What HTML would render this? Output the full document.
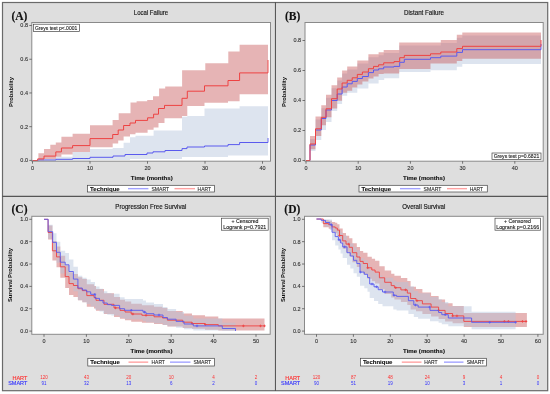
<!DOCTYPE html><html><head><meta charset="utf-8"><style>html,body{margin:0;padding:0;background:#fff;width:550px;height:394px;overflow:hidden}svg{display:block;will-change:transform;filter:blur(0.35px)}</style></head><body>
<svg width="550" height="394" viewBox="0 0 550 394">
<rect x="0" y="0" width="550" height="394" fill="#fff"/>
<rect x="2.5" y="2.5" width="545.2" height="388.2" fill="#dedede" stroke="#6a6a6a" stroke-width="1.2"/>
<line x1="275.45" y1="2" x2="275.45" y2="391" stroke="#555" stroke-width="1.05"/>
<line x1="2" y1="196.35" x2="548" y2="196.35" stroke="#555" stroke-width="1.05"/>
<text x="11.40" y="20.10" font-size="11.5" text-anchor="start" font-weight="bold" fill="#111" font-family='"Liberation Serif", serif'  stroke="#111" stroke-width="0.12">(A)</text>
<text x="151.00" y="14.80" font-size="7.0" text-anchor="middle" font-weight="normal" fill="#1a1a1a" font-family='"Liberation Sans", sans-serif' textLength="34.4" lengthAdjust="spacingAndGlyphs" stroke="#1a1a1a" stroke-width="0.18">Local Failure</text>
<rect x="31.8" y="22.5" width="238.7" height="138.7" fill="#fff"/>
<path d="M32.50,160.50 L44.00,160.50 L44.00,159.00 L56.00,159.00 L56.00,156.80 L72.60,156.80 L72.60,152.00 L90.00,152.00 L90.00,149.00 L112.70,149.00 L112.70,148.00 L123.60,148.00 L123.60,142.70 L130.00,142.70 L130.00,137.30 L135.50,137.30 L135.50,135.80 L153.60,135.80 L153.60,130.50 L182.00,130.50 L182.00,116.80 L187.30,116.80 L187.30,116.00 L204.50,116.00 L204.50,108.40 L239.60,108.40 L239.60,106.20 L268.00,106.20 L268.00,155.50 L228.00,155.50 L228.00,157.00 L182.00,157.00 L182.00,159.00 L130.00,159.00 L130.00,160.00 L90.00,160.00 L90.00,160.50 L32.50,160.50Z" fill="#dde4ef" fill-opacity="1"/>
<path d="M32.50,160.50 L38.40,160.50 L38.40,153.30 L44.00,153.30 L44.00,149.10 L50.30,149.10 L50.30,144.70 L55.80,144.70 L55.80,142.40 L61.40,142.40 L61.40,136.80 L72.60,136.80 L72.60,133.80 L90.00,133.80 L90.00,125.20 L112.60,125.20 L112.60,119.90 L118.70,119.90 L118.70,113.20 L130.50,113.20 L130.50,102.60 L136.60,102.60 L136.60,101.30 L147.20,101.30 L147.20,99.90 L153.00,99.90 L153.00,96.30 L159.10,96.30 L159.10,88.60 L165.20,88.60 L165.20,86.60 L182.10,86.60 L182.10,70.30 L205.30,70.30 L205.30,63.30 L228.30,63.30 L228.30,51.60 L239.60,51.60 L239.60,44.80 L268.00,44.80 L268.00,94.20 L239.60,94.20 L239.60,101.30 L228.00,101.30 L228.00,102.70 L204.50,102.70 L204.50,106.10 L187.30,106.10 L187.30,116.00 L182.00,116.00 L182.00,118.30 L164.50,118.30 L164.50,122.90 L158.50,122.90 L158.50,127.40 L153.60,127.40 L153.60,129.70 L147.60,129.70 L147.60,132.80 L135.50,132.80 L135.50,134.30 L130.00,134.30 L130.00,136.60 L123.60,136.60 L123.60,140.40 L118.20,140.40 L118.20,143.60 L112.70,143.60 L112.70,147.30 L90.00,147.30 L90.00,152.00 L72.60,152.00 L72.60,154.40 L61.40,154.40 L61.40,156.80 L56.00,156.80 L56.00,159.00 L44.00,159.00 L44.00,160.50 L32.50,160.50Z" fill="rgb(199,88,91)" fill-opacity="0.45"/>
<path d="M32.50,160.50 L38.00,160.50 L38.00,160.00 L56.00,160.00 L56.00,159.30 L72.60,159.30 L72.60,158.50 L90.00,158.50 L90.00,157.30 L113.00,157.30 L113.00,156.00 L125.00,156.00 L125.00,154.50 L147.00,154.50 L147.00,153.00 L153.00,153.00 L153.00,151.80 L165.00,151.80 L165.00,150.50 L182.00,150.50 L182.00,148.60 L187.00,148.60 L187.00,147.00 L204.50,147.00 L204.50,146.00 L228.00,146.00 L228.00,144.60 L239.60,144.60 L239.60,142.50 L268.00,142.50" fill="none" stroke="#5a5aee" stroke-width="1"/>
<line x1="268" y1="142.5" x2="268" y2="138" stroke="#5a5aee" stroke-width="0.9"/>
<path d="M32.50,160.50 L37.70,160.50 L37.70,158.90 L44.00,158.90 L44.00,156.10 L55.80,156.10 L55.80,151.90 L61.40,151.90 L61.40,148.00 L72.60,148.00 L72.60,145.60 L90.00,145.60 L90.00,138.60 L112.70,138.60 L112.70,134.50 L118.20,134.50 L118.20,130.00 L123.60,130.00 L123.60,125.50 L130.00,125.50 L130.00,123.00 L135.50,123.00 L135.50,120.40 L147.60,120.40 L147.60,117.80 L153.60,117.80 L153.60,114.20 L158.50,114.20 L158.50,108.50 L164.50,108.50 L164.50,105.40 L182.00,105.40 L182.00,98.30 L187.30,98.30 L187.30,91.20 L204.50,91.20 L204.50,85.80 L228.00,85.80 L228.00,80.50 L239.60,80.50 L239.60,72.90 L268.00,72.90" fill="none" stroke="#ee4242" stroke-width="1"/>
<line x1="268" y1="72.9" x2="268" y2="60" stroke="#ee4242" stroke-width="0.9"/>
<rect x="31.8" y="22.5" width="238.7" height="138.7" fill="none" stroke="#8a8a8a" stroke-width="1"/>
<line x1="29.3" y1="160.40" x2="31.8" y2="160.40" stroke="#555" stroke-width="0.8"/>
<text x="28.00" y="162.35" font-size="5.5" text-anchor="end" font-weight="normal" fill="#333" font-family='"Liberation Sans", sans-serif'  stroke="#333" stroke-width="0.12">0.0</text>
<line x1="29.3" y1="126.68" x2="31.8" y2="126.68" stroke="#555" stroke-width="0.8"/>
<text x="28.00" y="128.63" font-size="5.5" text-anchor="end" font-weight="normal" fill="#333" font-family='"Liberation Sans", sans-serif'  stroke="#333" stroke-width="0.12">0.2</text>
<line x1="29.3" y1="92.96" x2="31.8" y2="92.96" stroke="#555" stroke-width="0.8"/>
<text x="28.00" y="94.91" font-size="5.5" text-anchor="end" font-weight="normal" fill="#333" font-family='"Liberation Sans", sans-serif'  stroke="#333" stroke-width="0.12">0.4</text>
<line x1="29.3" y1="59.24" x2="31.8" y2="59.24" stroke="#555" stroke-width="0.8"/>
<text x="28.00" y="61.19" font-size="5.5" text-anchor="end" font-weight="normal" fill="#333" font-family='"Liberation Sans", sans-serif'  stroke="#333" stroke-width="0.12">0.6</text>
<line x1="29.3" y1="25.52" x2="31.8" y2="25.52" stroke="#555" stroke-width="0.8"/>
<text x="28.00" y="27.47" font-size="5.5" text-anchor="end" font-weight="normal" fill="#333" font-family='"Liberation Sans", sans-serif'  stroke="#333" stroke-width="0.12">0.8</text>
<line x1="32.50" y1="161.2" x2="32.50" y2="163.7" stroke="#555" stroke-width="0.8"/>
<text x="32.50" y="170.10" font-size="5.5" text-anchor="middle" font-weight="normal" fill="#333" font-family='"Liberation Sans", sans-serif'  stroke="#333" stroke-width="0.12">0</text>
<line x1="90.00" y1="161.2" x2="90.00" y2="163.7" stroke="#555" stroke-width="0.8"/>
<text x="90.00" y="170.10" font-size="5.5" text-anchor="middle" font-weight="normal" fill="#333" font-family='"Liberation Sans", sans-serif'  stroke="#333" stroke-width="0.12">10</text>
<line x1="147.50" y1="161.2" x2="147.50" y2="163.7" stroke="#555" stroke-width="0.8"/>
<text x="147.50" y="170.10" font-size="5.5" text-anchor="middle" font-weight="normal" fill="#333" font-family='"Liberation Sans", sans-serif'  stroke="#333" stroke-width="0.12">20</text>
<line x1="205.00" y1="161.2" x2="205.00" y2="163.7" stroke="#555" stroke-width="0.8"/>
<text x="205.00" y="170.10" font-size="5.5" text-anchor="middle" font-weight="normal" fill="#333" font-family='"Liberation Sans", sans-serif'  stroke="#333" stroke-width="0.12">30</text>
<line x1="262.50" y1="161.2" x2="262.50" y2="163.7" stroke="#555" stroke-width="0.8"/>
<text x="262.50" y="170.10" font-size="5.5" text-anchor="middle" font-weight="normal" fill="#333" font-family='"Liberation Sans", sans-serif'  stroke="#333" stroke-width="0.12">40</text>
<text x="0" y="0" font-size="5.8" font-weight="bold" text-anchor="middle" fill="#111" font-family='"Liberation Sans", sans-serif' transform="translate(13.3,92) rotate(-90)">Probability</text>
<text x="151.80" y="179.80" font-size="6.1" text-anchor="middle" font-weight="bold" fill="#111" font-family='"Liberation Sans", sans-serif'  stroke="#111" stroke-width="0.12">Time (months)</text>
<rect x="87.6" y="185.3" width="126.80000000000001" height="6.699999999999989" fill="#fff" stroke="#444" stroke-width="0.7"/>
<text x="90.10" y="190.80" font-size="6.0" text-anchor="start" font-weight="bold" fill="#111" font-family='"Liberation Sans", sans-serif'  stroke="#111" stroke-width="0.12">Technique</text>
<line x1="128" y1="188.65" x2="148.4" y2="188.65" stroke="#3030ff" stroke-width="1.4" stroke-opacity="0.45"/>
<text x="151.40" y="190.65" font-size="5.6" text-anchor="start" font-weight="normal" fill="#2a2a2a" font-family='"Liberation Sans", sans-serif' textLength="17.8" lengthAdjust="spacingAndGlyphs" stroke="#2a2a2a" stroke-width="0.12">SMART</text>
<line x1="174.5" y1="188.65" x2="195" y2="188.65" stroke="#ff3030" stroke-width="1.4" stroke-opacity="0.45"/>
<text x="197.60" y="190.65" font-size="5.6" text-anchor="start" font-weight="normal" fill="#2a2a2a" font-family='"Liberation Sans", sans-serif' textLength="13.4" lengthAdjust="spacingAndGlyphs" stroke="#2a2a2a" stroke-width="0.12">HART</text>
<rect x="33.5" y="24.2" width="46.0" height="7.400000000000002" fill="#fff" stroke="#444" stroke-width="0.7"/>
<text x="35.00" y="30.00" font-size="5.6" text-anchor="start" font-weight="normal" fill="#222" font-family='"Liberation Sans", sans-serif' textLength="42.2" lengthAdjust="spacingAndGlyphs" stroke="#222" stroke-width="0.12">Greys test p&lt;.0001</text>
<text x="284.90" y="20.00" font-size="11.5" text-anchor="start" font-weight="bold" fill="#111" font-family='"Liberation Serif", serif'  stroke="#111" stroke-width="0.12">(B)</text>
<text x="424.00" y="14.80" font-size="7.0" text-anchor="middle" font-weight="normal" fill="#1a1a1a" font-family='"Liberation Sans", sans-serif' textLength="40" lengthAdjust="spacingAndGlyphs" stroke="#1a1a1a" stroke-width="0.18">Distant Failure</text>
<rect x="305" y="22.5" width="238.20000000000005" height="138.7" fill="#fff"/>
<path d="M306.00,160.50 L310.00,160.50 L310.00,139.00 L315.50,139.00 L315.50,119.50 L321.30,119.50 L321.30,108.30 L326.00,108.30 L326.00,97.70 L331.50,97.70 L331.50,88.30 L337.20,88.30 L337.20,80.50 L342.10,80.50 L342.10,73.50 L347.20,73.50 L347.20,69.40 L357.30,69.40 L357.30,63.50 L368.40,63.50 L368.40,57.20 L378.60,57.20 L378.60,55.20 L383.70,55.20 L383.70,53.00 L399.20,53.00 L399.20,45.40 L440.80,45.40 L440.80,43.10 L456.80,43.10 L456.80,37.80 L462.30,37.80 L462.30,35.60 L541.00,35.60 L541.00,63.90 L462.30,63.90 L462.30,66.80 L456.80,66.80 L456.80,70.30 L430.50,70.30 L430.50,72.10 L399.20,72.10 L399.20,78.20 L384.20,78.20 L384.20,80.00 L378.60,80.00 L378.60,83.60 L368.40,83.60 L368.40,88.60 L357.30,88.60 L357.30,92.70 L347.20,92.70 L347.20,95.70 L342.10,95.70 L342.10,104.00 L337.20,104.00 L337.20,111.00 L331.50,111.00 L331.50,122.00 L326.00,122.00 L326.00,130.00 L321.30,130.00 L321.30,140.00 L315.50,140.00 L315.50,151.00 L310.00,151.00 L310.00,160.50 L306.00,160.50Z" fill="#dde4ef" fill-opacity="1"/>
<path d="M306.00,160.50 L310.00,160.50 L310.00,136.00 L315.50,136.00 L315.50,116.50 L321.30,116.50 L321.30,105.30 L326.00,105.30 L326.00,94.70 L331.50,94.70 L331.50,85.30 L337.20,85.30 L337.20,77.50 L342.10,77.50 L342.10,70.50 L347.20,70.50 L347.20,66.40 L357.30,66.40 L357.30,60.50 L368.40,60.50 L368.40,54.20 L378.60,54.20 L378.60,52.20 L383.70,52.20 L383.70,50.00 L399.20,50.00 L399.20,42.40 L440.80,42.40 L440.80,40.10 L456.80,40.10 L456.80,34.80 L462.30,34.80 L462.30,32.60 L541.00,32.60 L541.00,58.80 L462.30,58.80 L462.30,61.10 L456.80,61.10 L456.80,63.40 L430.50,63.40 L430.50,69.10 L399.20,69.10 L399.20,73.50 L383.70,73.50 L383.70,74.00 L378.60,74.00 L378.60,76.50 L373.50,76.50 L373.50,78.50 L368.40,78.50 L368.40,81.50 L362.40,81.50 L362.40,84.60 L357.30,84.60 L357.30,87.60 L352.20,87.60 L352.20,90.70 L347.20,90.70 L347.20,92.70 L342.10,92.70 L342.10,100.80 L337.20,100.80 L337.20,108.50 L331.50,108.50 L331.50,117.30 L326.00,117.30 L326.00,125.30 L321.30,125.30 L321.30,136.00 L315.50,136.00 L315.50,149.30 L310.00,149.30 L310.00,160.50 L306.00,160.50Z" fill="rgb(199,88,91)" fill-opacity="0.45"/>
<path d="M306.00,160.50 L310.00,160.50 L310.00,145.00 L315.50,145.00 L315.50,130.00 L321.30,130.00 L321.30,118.50 L326.00,118.50 L326.00,110.00 L331.50,110.00 L331.50,100.50 L337.20,100.50 L337.20,94.00 L342.10,94.00 L342.10,87.00 L347.20,87.00 L347.20,83.80 L352.20,83.80 L352.20,81.40 L357.30,81.40 L357.30,78.50 L362.40,78.50 L362.40,76.50 L368.40,76.50 L368.40,72.60 L373.50,72.60 L373.50,70.00 L378.60,70.00 L378.60,68.80 L383.70,68.80 L383.70,67.00 L394.00,67.00 L394.00,66.40 L399.70,66.40 L399.70,62.30 L404.30,62.30 L404.30,59.30 L430.50,59.30 L430.50,57.70 L440.80,57.70 L440.80,56.10 L456.80,56.10 L456.80,52.40 L462.50,52.40 L462.50,49.70 L541.00,49.70" fill="none" stroke="#5a5aee" stroke-width="1"/>
<line x1="541" y1="49.7" x2="541" y2="44" stroke="#5a5aee" stroke-width="0.9"/>
<path d="M306.00,160.50 L310.00,160.50 L310.00,144.00 L315.50,144.00 L315.50,128.80 L321.30,128.80 L321.30,117.30 L326.00,117.30 L326.00,108.80 L331.50,108.80 L331.50,98.70 L337.20,98.70 L337.20,89.00 L342.10,89.00 L342.10,83.00 L347.20,83.00 L347.20,80.30 L352.20,80.30 L352.20,77.80 L357.30,77.80 L357.30,74.40 L362.40,74.40 L362.40,72.00 L368.40,72.00 L368.40,68.70 L373.50,68.70 L373.50,66.40 L378.60,66.40 L378.60,64.80 L383.70,64.80 L383.70,62.80 L394.00,62.80 L394.00,61.60 L399.70,61.60 L399.70,57.70 L404.30,57.70 L404.30,55.40 L430.50,55.40 L430.50,53.80 L440.80,53.80 L440.80,52.00 L456.80,52.00 L456.80,48.60 L462.50,48.60 L462.50,46.30 L541.00,46.30" fill="none" stroke="#ee4242" stroke-width="1"/>
<line x1="541" y1="46.3" x2="541" y2="40" stroke="#ee4242" stroke-width="0.9"/>
<rect x="305" y="22.5" width="238.20000000000005" height="138.7" fill="none" stroke="#8a8a8a" stroke-width="1"/>
<line x1="302.5" y1="160.50" x2="305" y2="160.50" stroke="#555" stroke-width="0.8"/>
<text x="301.20" y="162.45" font-size="5.5" text-anchor="end" font-weight="normal" fill="#333" font-family='"Liberation Sans", sans-serif'  stroke="#333" stroke-width="0.12">0.0</text>
<line x1="302.5" y1="130.50" x2="305" y2="130.50" stroke="#555" stroke-width="0.8"/>
<text x="301.20" y="132.45" font-size="5.5" text-anchor="end" font-weight="normal" fill="#333" font-family='"Liberation Sans", sans-serif'  stroke="#333" stroke-width="0.12">0.2</text>
<line x1="302.5" y1="100.50" x2="305" y2="100.50" stroke="#555" stroke-width="0.8"/>
<text x="301.20" y="102.45" font-size="5.5" text-anchor="end" font-weight="normal" fill="#333" font-family='"Liberation Sans", sans-serif'  stroke="#333" stroke-width="0.12">0.4</text>
<line x1="302.5" y1="70.50" x2="305" y2="70.50" stroke="#555" stroke-width="0.8"/>
<text x="301.20" y="72.45" font-size="5.5" text-anchor="end" font-weight="normal" fill="#333" font-family='"Liberation Sans", sans-serif'  stroke="#333" stroke-width="0.12">0.6</text>
<line x1="302.5" y1="40.50" x2="305" y2="40.50" stroke="#555" stroke-width="0.8"/>
<text x="301.20" y="42.45" font-size="5.5" text-anchor="end" font-weight="normal" fill="#333" font-family='"Liberation Sans", sans-serif'  stroke="#333" stroke-width="0.12">0.8</text>
<line x1="306.00" y1="161.2" x2="306.00" y2="163.7" stroke="#555" stroke-width="0.8"/>
<text x="306.00" y="170.10" font-size="5.5" text-anchor="middle" font-weight="normal" fill="#333" font-family='"Liberation Sans", sans-serif'  stroke="#333" stroke-width="0.12">0</text>
<line x1="358.20" y1="161.2" x2="358.20" y2="163.7" stroke="#555" stroke-width="0.8"/>
<text x="358.20" y="170.10" font-size="5.5" text-anchor="middle" font-weight="normal" fill="#333" font-family='"Liberation Sans", sans-serif'  stroke="#333" stroke-width="0.12">10</text>
<line x1="410.40" y1="161.2" x2="410.40" y2="163.7" stroke="#555" stroke-width="0.8"/>
<text x="410.40" y="170.10" font-size="5.5" text-anchor="middle" font-weight="normal" fill="#333" font-family='"Liberation Sans", sans-serif'  stroke="#333" stroke-width="0.12">20</text>
<line x1="462.60" y1="161.2" x2="462.60" y2="163.7" stroke="#555" stroke-width="0.8"/>
<text x="462.60" y="170.10" font-size="5.5" text-anchor="middle" font-weight="normal" fill="#333" font-family='"Liberation Sans", sans-serif'  stroke="#333" stroke-width="0.12">30</text>
<line x1="514.80" y1="161.2" x2="514.80" y2="163.7" stroke="#555" stroke-width="0.8"/>
<text x="514.80" y="170.10" font-size="5.5" text-anchor="middle" font-weight="normal" fill="#333" font-family='"Liberation Sans", sans-serif'  stroke="#333" stroke-width="0.12">40</text>
<text x="0" y="0" font-size="5.8" font-weight="bold" text-anchor="middle" fill="#111" font-family='"Liberation Sans", sans-serif' transform="translate(285.5,92) rotate(-90)">Probability</text>
<text x="424.00" y="179.80" font-size="6.1" text-anchor="middle" font-weight="bold" fill="#111" font-family='"Liberation Sans", sans-serif'  stroke="#111" stroke-width="0.12">Time (months)</text>
<rect x="359" y="185.3" width="128.3" height="6.699999999999989" fill="#fff" stroke="#444" stroke-width="0.7"/>
<text x="361.50" y="190.80" font-size="6.0" text-anchor="start" font-weight="bold" fill="#111" font-family='"Liberation Sans", sans-serif'  stroke="#111" stroke-width="0.12">Technique</text>
<line x1="400" y1="188.65" x2="420.5" y2="188.65" stroke="#3030ff" stroke-width="1.4" stroke-opacity="0.45"/>
<text x="423.60" y="190.65" font-size="5.6" text-anchor="start" font-weight="normal" fill="#2a2a2a" font-family='"Liberation Sans", sans-serif' textLength="17.8" lengthAdjust="spacingAndGlyphs" stroke="#2a2a2a" stroke-width="0.12">SMART</text>
<line x1="447" y1="188.65" x2="467" y2="188.65" stroke="#ff3030" stroke-width="1.4" stroke-opacity="0.45"/>
<text x="469.70" y="190.65" font-size="5.6" text-anchor="start" font-weight="normal" fill="#2a2a2a" font-family='"Liberation Sans", sans-serif' textLength="13.4" lengthAdjust="spacingAndGlyphs" stroke="#2a2a2a" stroke-width="0.12">HART</text>
<rect x="492" y="153" width="49" height="6.599999999999994" fill="#fff" stroke="#444" stroke-width="0.7"/>
<text x="516.50" y="158.30" font-size="5.6" text-anchor="middle" font-weight="normal" fill="#222" font-family='"Liberation Sans", sans-serif' textLength="45.6" lengthAdjust="spacingAndGlyphs" stroke="#222" stroke-width="0.12">Greys test p=0.6821</text>
<text x="11.50" y="213.30" font-size="11.5" text-anchor="start" font-weight="bold" fill="#111" font-family='"Liberation Serif", serif'  stroke="#111" stroke-width="0.12">(C)</text>
<text x="150.80" y="208.70" font-size="7.0" text-anchor="middle" font-weight="normal" fill="#1a1a1a" font-family='"Liberation Sans", sans-serif' textLength="71" lengthAdjust="spacingAndGlyphs" stroke="#1a1a1a" stroke-width="0.18">Progression Free Survival</text>
<rect x="31.8" y="216.3" width="238.39999999999998" height="118.0" fill="#fff"/>
<path d="M44.00,219.30 L48.10,219.30 L48.10,225.61 L52.40,225.61 L52.40,241.04 L56.50,241.04 L56.50,246.49 L60.30,246.49 L60.30,255.75 L65.20,255.75 L65.20,265.23 L69.00,265.23 L69.00,272.20 L73.40,272.20 L73.40,273.99 L77.90,273.99 L77.90,277.15 L82.30,277.15 L82.30,278.99 L86.80,278.99 L86.80,284.18 L94.00,284.18 L94.00,285.98 L96.00,285.98 L96.00,289.00 L104.00,289.00 L104.00,293.22 L114.00,293.22 L114.00,297.04 L120.00,297.04 L120.00,299.81 L125.00,299.81 L125.00,301.58 L131.20,301.58 L131.20,303.85 L141.90,303.85 L141.90,305.17 L154.00,305.17 L154.00,306.75 L162.50,306.75 L162.50,308.10 L167.40,308.10 L167.40,310.95 L182.70,310.95 L182.70,313.42 L192.00,313.42 L192.00,315.14 L205.00,315.14 L205.00,316.58 L218.30,316.58 L218.30,318.45 L264.50,318.45 L264.50,330.47 L218.30,330.47 L218.30,329.64 L205.00,329.64 L205.00,328.87 L192.00,328.87 L192.00,327.97 L182.70,327.97 L182.70,326.51 L167.40,326.51 L167.40,325.01 L162.50,325.01 L162.50,324.06 L154.00,324.06 L154.00,322.80 L141.90,322.80 L141.90,321.68 L131.20,321.68 L131.20,320.13 L125.00,320.13 L125.00,318.87 L120.00,318.87 L120.00,316.91 L114.00,316.91 L114.00,313.98 L104.00,313.98 L104.00,310.72 L96.00,310.72 L96.00,308.51 L94.00,308.51 L94.00,306.78 L86.80,306.78 L86.80,302.21 L82.30,302.21 L82.30,300.25 L77.90,300.25 L77.90,297.01 L73.40,297.01 L73.40,295.00 L69.00,295.00 L69.00,287.97 L65.20,287.97 L65.20,277.85 L60.30,277.85 L60.30,267.31 L56.50,267.31 L56.50,260.56 L52.40,260.56 L52.40,239.39 L48.10,239.39 L48.10,219.30 L44.00,219.30Z" fill="#e6b4b5" fill-opacity="1"/>
<path d="M44.00,219.30 L48.10,219.30 L48.10,224.68 L52.70,224.68 L52.70,233.19 L56.50,233.19 L56.50,241.77 L60.30,241.77 L60.30,250.82 L65.20,250.82 L65.20,253.09 L69.00,253.09 L69.00,259.45 L73.40,259.45 L73.40,266.86 L77.90,266.86 L77.90,275.87 L82.30,275.87 L82.30,277.80 L86.60,277.80 L86.60,279.54 L90.70,279.54 L90.70,282.06 L95.00,282.06 L95.00,286.39 L99.50,286.39 L99.50,288.66 L103.00,288.66 L103.00,291.24 L107.30,291.24 L107.30,292.92 L111.40,292.92 L111.40,293.69 L119.60,293.69 L119.60,297.28 L124.60,297.28 L124.60,299.03 L143.00,299.03 L143.00,300.62 L146.00,300.62 L146.00,302.53 L154.00,302.53 L154.00,303.94 L163.00,303.94 L163.00,306.94 L167.40,306.94 L167.40,309.12 L176.10,309.12 L176.10,311.99 L184.00,311.99 L184.00,315.68 L193.30,315.68 L193.30,318.55 L222.30,318.55 L222.30,322.86 L235.50,322.86 L235.50,331.10 L222.30,331.10 L222.30,330.41 L193.30,330.41 L193.30,329.29 L184.00,329.29 L184.00,327.68 L176.10,327.68 L176.10,326.19 L167.40,326.19 L167.40,325.04 L163.00,325.04 L163.00,323.24 L154.00,323.24 L154.00,322.19 L146.00,322.19 L146.00,321.05 L143.00,321.05 L143.00,319.33 L124.60,319.33 L124.60,318.07 L119.60,318.07 L119.60,315.47 L111.40,315.47 L111.40,314.76 L107.30,314.76 L107.30,313.46 L103.00,313.46 L103.00,311.56 L99.50,311.56 L99.50,309.75 L95.00,309.75 L95.00,306.47 L90.70,306.47 L90.70,304.06 L86.60,304.06 L86.60,302.20 L82.30,302.20 L82.30,300.13 L77.90,300.13 L77.90,291.34 L73.40,291.34 L73.40,283.55 L69.00,283.55 L69.00,276.51 L65.20,276.51 L65.20,273.58 L60.30,273.58 L60.30,262.83 L56.50,262.83 L56.50,251.61 L52.70,251.61 L52.70,238.72 L48.10,238.72 L48.10,219.30 L44.00,219.30Z" fill="rgb(179,195,219)" fill-opacity="0.45"/>
<path d="M44.00,219.30 L48.10,219.30 L48.10,232.50 L52.40,232.50 L52.40,250.80 L56.50,250.80 L56.50,256.90 L60.30,256.90 L60.30,266.80 L65.20,266.80 L65.20,276.60 L69.00,276.60 L69.00,283.60 L73.40,283.60 L73.40,285.50 L77.90,285.50 L77.90,288.70 L82.30,288.70 L82.30,290.60 L86.80,290.60 L86.80,295.60 L94.00,295.60 L94.00,297.50 L96.00,297.50 L96.00,300.30 L104.00,300.30 L104.00,304.30 L114.00,304.30 L114.00,307.90 L120.00,307.90 L120.00,310.40 L125.00,310.40 L125.00,312.00 L131.20,312.00 L131.20,314.00 L141.90,314.00 L141.90,315.30 L154.00,315.30 L154.00,316.80 L162.50,316.80 L162.50,318.00 L167.40,318.00 L167.40,320.20 L182.70,320.20 L182.70,322.20 L192.00,322.20 L192.00,323.50 L205.00,323.50 L205.00,324.60 L218.30,324.60 L218.30,325.90 L264.50,325.90" fill="none" stroke="#ee4242" stroke-width="0.9"/>
<path d="M114.20,307.90 h2.6 M115.50,306.60 v2.6" stroke="#ee4242" stroke-width="0.8"/>
<path d="M131.50,314.00 h2.6 M132.80,312.70 v2.6" stroke="#ee4242" stroke-width="0.8"/>
<path d="M144.70,315.30 h2.6 M146.00,314.00 v2.6" stroke="#ee4242" stroke-width="0.8"/>
<path d="M190.90,323.50 h2.6 M192.20,322.20 v2.6" stroke="#ee4242" stroke-width="0.8"/>
<path d="M204.00,324.60 h2.6 M205.30,323.30 v2.6" stroke="#ee4242" stroke-width="0.8"/>
<path d="M242.10,325.90 h2.6 M243.40,324.60 v2.6" stroke="#ee4242" stroke-width="0.8"/>
<path d="M259.20,325.90 h2.6 M260.50,324.60 v2.6" stroke="#ee4242" stroke-width="0.8"/>
<path d="M263.20,325.90 h2.6 M264.50,324.60 v2.6" stroke="#ee4242" stroke-width="0.8"/>
<path d="M44.00,219.30 L48.10,219.30 L48.10,231.70 L52.70,231.70 L52.70,242.40 L56.50,242.40 L56.50,252.30 L60.30,252.30 L60.30,262.20 L65.20,262.20 L65.20,264.80 L69.00,264.80 L69.00,271.50 L73.40,271.50 L73.40,279.10 L77.90,279.10 L77.90,288.00 L82.30,288.00 L82.30,290.00 L86.60,290.00 L86.60,291.80 L90.70,291.80 L90.70,294.30 L95.00,294.30 L95.00,298.40 L99.50,298.40 L99.50,300.60 L103.00,300.60 L103.00,303.00 L107.30,303.00 L107.30,304.60 L111.40,304.60 L111.40,305.40 L119.60,305.40 L119.60,308.70 L124.60,308.70 L124.60,310.30 L143.00,310.30 L143.00,312.10 L146.00,312.10 L146.00,313.70 L154.00,313.70 L154.00,315.00 L163.00,315.00 L163.00,317.50 L167.40,317.50 L167.40,319.20 L176.10,319.20 L176.10,321.40 L184.00,321.40 L184.00,324.00 L193.30,324.00 L193.30,325.90 L222.30,325.90 L222.30,328.50 L235.50,328.50" fill="none" stroke="#5a5aee" stroke-width="0.9"/>
<line x1="235.5" y1="328.5" x2="235.5" y2="331" stroke="#5a5aee" stroke-width="0.9"/>
<path d="M93.60,294.30 h2.6 M94.90,293.00 v2.6" stroke="#5a5aee" stroke-width="0.8"/>
<path d="M130.00,310.30 h2.6 M131.30,309.00 v2.6" stroke="#5a5aee" stroke-width="0.8"/>
<path d="M143.20,312.10 h2.6 M144.50,310.80 v2.6" stroke="#5a5aee" stroke-width="0.8"/>
<path d="M157.70,315.00 h2.6 M159.00,313.70 v2.6" stroke="#5a5aee" stroke-width="0.8"/>
<path d="M195.70,325.90 h2.6 M197.00,324.60 v2.6" stroke="#5a5aee" stroke-width="0.8"/>
<rect x="31.8" y="216.3" width="238.39999999999998" height="118.0" fill="none" stroke="#8a8a8a" stroke-width="1"/>
<line x1="29.3" y1="331.10" x2="31.8" y2="331.10" stroke="#555" stroke-width="0.8"/>
<text x="28.00" y="333.05" font-size="5.5" text-anchor="end" font-weight="normal" fill="#333" font-family='"Liberation Sans", sans-serif'  stroke="#333" stroke-width="0.12">0.0</text>
<line x1="29.3" y1="308.74" x2="31.8" y2="308.74" stroke="#555" stroke-width="0.8"/>
<text x="28.00" y="310.69" font-size="5.5" text-anchor="end" font-weight="normal" fill="#333" font-family='"Liberation Sans", sans-serif'  stroke="#333" stroke-width="0.12">0.2</text>
<line x1="29.3" y1="286.38" x2="31.8" y2="286.38" stroke="#555" stroke-width="0.8"/>
<text x="28.00" y="288.33" font-size="5.5" text-anchor="end" font-weight="normal" fill="#333" font-family='"Liberation Sans", sans-serif'  stroke="#333" stroke-width="0.12">0.4</text>
<line x1="29.3" y1="264.02" x2="31.8" y2="264.02" stroke="#555" stroke-width="0.8"/>
<text x="28.00" y="265.97" font-size="5.5" text-anchor="end" font-weight="normal" fill="#333" font-family='"Liberation Sans", sans-serif'  stroke="#333" stroke-width="0.12">0.6</text>
<line x1="29.3" y1="241.66" x2="31.8" y2="241.66" stroke="#555" stroke-width="0.8"/>
<text x="28.00" y="243.61" font-size="5.5" text-anchor="end" font-weight="normal" fill="#333" font-family='"Liberation Sans", sans-serif'  stroke="#333" stroke-width="0.12">0.8</text>
<line x1="29.3" y1="219.30" x2="31.8" y2="219.30" stroke="#555" stroke-width="0.8"/>
<text x="28.00" y="221.25" font-size="5.5" text-anchor="end" font-weight="normal" fill="#333" font-family='"Liberation Sans", sans-serif'  stroke="#333" stroke-width="0.12">1.0</text>
<line x1="44.00" y1="334.3" x2="44.00" y2="336.8" stroke="#555" stroke-width="0.8"/>
<text x="44.00" y="343.20" font-size="5.5" text-anchor="middle" font-weight="normal" fill="#333" font-family='"Liberation Sans", sans-serif'  stroke="#333" stroke-width="0.12">0</text>
<line x1="86.40" y1="334.3" x2="86.40" y2="336.8" stroke="#555" stroke-width="0.8"/>
<text x="86.40" y="343.20" font-size="5.5" text-anchor="middle" font-weight="normal" fill="#333" font-family='"Liberation Sans", sans-serif'  stroke="#333" stroke-width="0.12">10</text>
<line x1="128.80" y1="334.3" x2="128.80" y2="336.8" stroke="#555" stroke-width="0.8"/>
<text x="128.80" y="343.20" font-size="5.5" text-anchor="middle" font-weight="normal" fill="#333" font-family='"Liberation Sans", sans-serif'  stroke="#333" stroke-width="0.12">20</text>
<line x1="171.20" y1="334.3" x2="171.20" y2="336.8" stroke="#555" stroke-width="0.8"/>
<text x="171.20" y="343.20" font-size="5.5" text-anchor="middle" font-weight="normal" fill="#333" font-family='"Liberation Sans", sans-serif'  stroke="#333" stroke-width="0.12">30</text>
<line x1="213.60" y1="334.3" x2="213.60" y2="336.8" stroke="#555" stroke-width="0.8"/>
<text x="213.60" y="343.20" font-size="5.5" text-anchor="middle" font-weight="normal" fill="#333" font-family='"Liberation Sans", sans-serif'  stroke="#333" stroke-width="0.12">40</text>
<line x1="256.00" y1="334.3" x2="256.00" y2="336.8" stroke="#555" stroke-width="0.8"/>
<text x="256.00" y="343.20" font-size="5.5" text-anchor="middle" font-weight="normal" fill="#333" font-family='"Liberation Sans", sans-serif'  stroke="#333" stroke-width="0.12">50</text>
<text x="0" y="0" font-size="5.8" font-weight="bold" text-anchor="middle" fill="#111" font-family='"Liberation Sans", sans-serif' transform="translate(12.3,275) rotate(-90)">Survival Probability</text>
<text x="151.50" y="352.50" font-size="6.1" text-anchor="middle" font-weight="bold" fill="#111" font-family='"Liberation Sans", sans-serif'  stroke="#111" stroke-width="0.12">Time (months)</text>
<rect x="87.8" y="358.3" width="126.8" height="7.699999999999989" fill="#fff" stroke="#444" stroke-width="0.7"/>
<text x="90.30" y="364.30" font-size="6.0" text-anchor="start" font-weight="bold" fill="#111" font-family='"Liberation Sans", sans-serif'  stroke="#111" stroke-width="0.12">Technique</text>
<line x1="128.5" y1="362.15" x2="148.2" y2="362.15" stroke="#ff3030" stroke-width="1.4" stroke-opacity="0.45"/>
<text x="151.50" y="364.15" font-size="5.6" text-anchor="start" font-weight="normal" fill="#2a2a2a" font-family='"Liberation Sans", sans-serif' textLength="13.4" lengthAdjust="spacingAndGlyphs" stroke="#2a2a2a" stroke-width="0.12">HART</text>
<line x1="170" y1="362.15" x2="190.5" y2="362.15" stroke="#3030ff" stroke-width="1.4" stroke-opacity="0.45"/>
<text x="193.40" y="364.15" font-size="5.6" text-anchor="start" font-weight="normal" fill="#2a2a2a" font-family='"Liberation Sans", sans-serif' textLength="17.8" lengthAdjust="spacingAndGlyphs" stroke="#2a2a2a" stroke-width="0.12">SMART</text>
<rect x="221.4" y="218.2" width="46.79999999999998" height="12.0" fill="#fff" stroke="#444" stroke-width="0.7"/>
<text x="245.00" y="222.90" font-size="5.6" text-anchor="middle" font-weight="normal" fill="#222" font-family='"Liberation Sans", sans-serif' textLength="27" lengthAdjust="spacingAndGlyphs" stroke="#222" stroke-width="0.12">+ Censored</text>
<text x="244.80" y="229.20" font-size="5.6" text-anchor="middle" font-weight="normal" fill="#222" font-family='"Liberation Sans", sans-serif' textLength="43" lengthAdjust="spacingAndGlyphs" stroke="#222" stroke-width="0.12">Logrank p=0.7921</text>
<text x="27.30" y="379.55" font-size="5.5" text-anchor="end" font-weight="normal" fill="#ff3030" font-family='"Liberation Sans", sans-serif'  stroke="#ff3030" stroke-width="0.12">HART</text>
<text x="44.00" y="379.20" font-size="4.5" text-anchor="middle" font-weight="normal" fill="#ff3030" font-family='"Liberation Sans", sans-serif' stroke="none">120</text>
<text x="86.40" y="379.20" font-size="4.5" text-anchor="middle" font-weight="normal" fill="#ff3030" font-family='"Liberation Sans", sans-serif' stroke="none">43</text>
<text x="128.80" y="379.20" font-size="4.5" text-anchor="middle" font-weight="normal" fill="#ff3030" font-family='"Liberation Sans", sans-serif' stroke="none">20</text>
<text x="171.20" y="379.20" font-size="4.5" text-anchor="middle" font-weight="normal" fill="#ff3030" font-family='"Liberation Sans", sans-serif' stroke="none">10</text>
<text x="213.60" y="379.20" font-size="4.5" text-anchor="middle" font-weight="normal" fill="#ff3030" font-family='"Liberation Sans", sans-serif' stroke="none">4</text>
<text x="256.00" y="379.20" font-size="4.5" text-anchor="middle" font-weight="normal" fill="#ff3030" font-family='"Liberation Sans", sans-serif' stroke="none">2</text>
<text x="27.30" y="385.15" font-size="5.5" text-anchor="end" font-weight="normal" fill="#3030ff" font-family='"Liberation Sans", sans-serif'  stroke="#3030ff" stroke-width="0.12">SMART</text>
<text x="44.00" y="384.80" font-size="4.5" text-anchor="middle" font-weight="normal" fill="#3030ff" font-family='"Liberation Sans", sans-serif' stroke="none">91</text>
<text x="86.40" y="384.80" font-size="4.5" text-anchor="middle" font-weight="normal" fill="#3030ff" font-family='"Liberation Sans", sans-serif' stroke="none">32</text>
<text x="128.80" y="384.80" font-size="4.5" text-anchor="middle" font-weight="normal" fill="#3030ff" font-family='"Liberation Sans", sans-serif' stroke="none">13</text>
<text x="171.20" y="384.80" font-size="4.5" text-anchor="middle" font-weight="normal" fill="#3030ff" font-family='"Liberation Sans", sans-serif' stroke="none">6</text>
<text x="213.60" y="384.80" font-size="4.5" text-anchor="middle" font-weight="normal" fill="#3030ff" font-family='"Liberation Sans", sans-serif' stroke="none">2</text>
<text x="256.00" y="384.80" font-size="4.5" text-anchor="middle" font-weight="normal" fill="#3030ff" font-family='"Liberation Sans", sans-serif' stroke="none">0</text>
<text x="284.30" y="213.30" font-size="11.5" text-anchor="start" font-weight="bold" fill="#111" font-family='"Liberation Serif", serif'  stroke="#111" stroke-width="0.12">(D)</text>
<text x="423.80" y="208.70" font-size="7.0" text-anchor="middle" font-weight="normal" fill="#1a1a1a" font-family='"Liberation Sans", sans-serif' textLength="43" lengthAdjust="spacingAndGlyphs" stroke="#1a1a1a" stroke-width="0.18">Overall Survival</text>
<rect x="304.5" y="216.3" width="238.70000000000005" height="118.0" fill="#fff"/>
<path d="M316.50,219.30 L323.30,219.30 L323.30,220.03 L328.70,220.03 L328.70,220.63 L332.00,220.63 L332.00,222.05 L335.20,222.05 L335.20,222.77 L337.30,222.77 L337.30,224.28 L339.50,224.28 L339.50,228.51 L342.70,228.51 L342.70,232.95 L346.00,232.95 L346.00,235.63 L349.20,235.63 L349.20,238.35 L352.40,238.35 L352.40,243.13 L356.80,243.13 L356.80,246.94 L360.00,246.94 L360.00,250.96 L363.20,250.96 L363.20,252.84 L367.50,252.84 L367.50,256.82 L371.80,256.82 L371.80,258.80 L375.10,258.80 L375.10,260.74 L379.40,260.74 L379.40,266.26 L384.70,266.26 L384.70,270.62 L391.20,270.62 L391.20,273.77 L394.40,273.77 L394.40,275.84 L400.90,275.84 L400.90,277.91 L407.30,277.91 L407.30,281.08 L410.60,281.08 L410.60,286.84 L416.00,286.84 L416.00,289.09 L422.40,289.09 L422.40,292.48 L431.10,292.48 L431.10,295.88 L438.60,295.88 L438.60,299.55 L445.10,299.55 L445.10,303.14 L452.60,303.14 L452.60,305.94 L463.80,305.94 L463.80,312.96 L526.90,312.96 L526.90,327.03 L463.80,327.03 L463.80,323.21 L452.60,323.21 L452.60,321.40 L445.10,321.40 L445.10,319.08 L438.60,319.08 L438.60,316.52 L431.10,316.52 L431.10,313.93 L422.40,313.93 L422.40,311.35 L416.00,311.35 L416.00,309.50 L410.60,309.50 L410.60,305.12 L407.30,305.12 L407.30,301.89 L400.90,301.89 L400.90,299.56 L394.40,299.56 L394.40,297.43 L391.20,297.43 L391.20,293.98 L384.70,293.98 L384.70,289.34 L379.40,289.34 L379.40,283.46 L375.10,283.46 L375.10,281.20 L371.80,281.20 L371.80,278.78 L367.50,278.78 L367.50,274.16 L363.20,274.16 L363.20,271.84 L360.00,271.84 L360.00,267.06 L356.80,267.06 L356.80,262.27 L352.40,262.27 L352.40,256.25 L349.20,256.25 L349.20,252.57 L346.00,252.57 L346.00,248.85 L342.70,248.85 L342.70,242.49 L339.50,242.49 L339.50,235.92 L337.30,235.92 L337.30,233.23 L335.20,233.23 L335.20,231.75 L332.00,231.75 L332.00,228.77 L328.70,228.77 L328.70,227.17 L323.30,227.17 L323.30,219.00 L316.50,219.00Z" fill="#e6b4b5" fill-opacity="1"/>
<path d="M316.50,219.30 L321.20,219.30 L321.20,219.30 L325.50,219.30 L325.50,219.30 L329.80,219.30 L329.80,219.47 L332.00,219.47 L332.00,224.41 L335.20,224.41 L335.20,227.58 L338.40,227.58 L338.40,230.02 L340.60,230.02 L340.60,232.58 L342.70,232.58 L342.70,235.81 L347.00,235.81 L347.00,240.72 L350.30,240.72 L350.30,243.55 L353.50,243.55 L353.50,247.36 L356.80,247.36 L356.80,250.21 L360.00,250.21 L360.00,258.36 L364.30,258.36 L364.30,260.32 L367.50,260.32 L367.50,263.36 L369.70,263.36 L369.70,269.91 L374.00,269.91 L374.00,272.63 L378.20,272.63 L378.20,275.50 L382.50,275.50 L382.50,277.76 L393.30,277.76 L393.30,280.85 L396.60,280.85 L396.60,281.91 L408.40,281.91 L408.40,286.22 L413.80,286.22 L413.80,290.99 L418.10,290.99 L418.10,293.32 L430.00,293.32 L430.00,296.89 L438.60,296.89 L438.60,299.21 L441.80,299.21 L441.80,301.96 L448.30,301.96 L448.30,306.20 L471.60,306.20 L471.60,311.77 L515.60,311.77 L515.60,329.21 L471.60,329.21 L471.60,326.36 L448.30,326.36 L448.30,324.23 L441.80,324.23 L441.80,322.79 L438.60,322.79 L438.60,321.21 L430.00,321.21 L430.00,318.67 L418.10,318.67 L418.10,317.12 L413.80,317.12 L413.80,313.98 L408.40,313.98 L408.40,310.44 L396.60,310.44 L396.60,309.50 L393.30,309.50 L393.30,306.24 L382.50,306.24 L382.50,303.90 L378.20,303.90 L378.20,300.97 L374.00,300.97 L374.00,298.09 L369.70,298.09 L369.70,291.64 L367.50,291.64 L367.50,288.28 L364.30,288.28 L364.30,285.84 L360.00,285.84 L360.00,276.79 L356.80,276.79 L356.80,273.24 L353.50,273.24 L353.50,268.45 L350.30,268.45 L350.30,264.68 L347.00,264.68 L347.00,257.99 L342.70,257.99 L342.70,253.42 L340.60,253.42 L340.60,249.58 L338.40,249.58 L338.40,245.62 L335.20,245.62 L335.20,240.19 L332.00,240.19 L332.00,229.93 L329.80,229.93 L329.80,226.49 L325.50,226.49 L325.50,222.72 L321.20,222.72 L321.20,219.00 L316.50,219.00Z" fill="rgb(179,195,219)" fill-opacity="0.45"/>
<path d="M316.50,219.00 L323.30,219.00 L323.30,223.60 L328.70,223.60 L328.70,224.70 L332.00,224.70 L332.00,226.90 L335.20,226.90 L335.20,228.00 L337.30,228.00 L337.30,230.10 L339.50,230.10 L339.50,235.50 L342.70,235.50 L342.70,240.90 L346.00,240.90 L346.00,244.10 L349.20,244.10 L349.20,247.30 L352.40,247.30 L352.40,252.70 L356.80,252.70 L356.80,257.00 L360.00,257.00 L360.00,261.40 L363.20,261.40 L363.20,263.50 L367.50,263.50 L367.50,267.80 L371.80,267.80 L371.80,270.00 L375.10,270.00 L375.10,272.10 L379.40,272.10 L379.40,277.80 L384.70,277.80 L384.70,282.30 L391.20,282.30 L391.20,285.60 L394.40,285.60 L394.40,287.70 L400.90,287.70 L400.90,289.90 L407.30,289.90 L407.30,293.10 L410.60,293.10 L410.60,298.50 L416.00,298.50 L416.00,300.70 L422.40,300.70 L422.40,303.90 L431.10,303.90 L431.10,307.10 L438.60,307.10 L438.60,310.40 L445.10,310.40 L445.10,313.50 L452.60,313.50 L452.60,315.90 L463.80,315.90 L463.80,321.40 L526.90,321.40" fill="none" stroke="#ee4242" stroke-width="0.9"/>
<path d="M338.30,235.50 h2.6 M339.60,234.20 v2.6" stroke="#ee4242" stroke-width="0.8"/>
<path d="M347.50,244.10 h2.6 M348.80,242.80 v2.6" stroke="#ee4242" stroke-width="0.8"/>
<path d="M366.40,267.80 h2.6 M367.70,266.50 v2.6" stroke="#ee4242" stroke-width="0.8"/>
<path d="M394.40,287.70 h2.6 M395.70,286.40 v2.6" stroke="#ee4242" stroke-width="0.8"/>
<path d="M404.30,289.90 h2.6 M405.60,288.60 v2.6" stroke="#ee4242" stroke-width="0.8"/>
<path d="M415.70,300.70 h2.6 M417.00,299.40 v2.6" stroke="#ee4242" stroke-width="0.8"/>
<path d="M437.30,310.40 h2.6 M438.60,309.10 v2.6" stroke="#ee4242" stroke-width="0.8"/>
<path d="M451.30,315.90 h2.6 M452.60,314.60 v2.6" stroke="#ee4242" stroke-width="0.8"/>
<path d="M455.60,315.90 h2.6 M456.90,314.60 v2.6" stroke="#ee4242" stroke-width="0.8"/>
<path d="M503.10,321.40 h2.6 M504.40,320.10 v2.6" stroke="#ee4242" stroke-width="0.8"/>
<path d="M507.10,321.40 h2.6 M508.40,320.10 v2.6" stroke="#ee4242" stroke-width="0.8"/>
<path d="M521.20,321.40 h2.6 M522.50,320.10 v2.6" stroke="#ee4242" stroke-width="0.8"/>
<path d="M524.70,321.40 h2.6 M526.00,320.10 v2.6" stroke="#ee4242" stroke-width="0.8"/>
<path d="M316.50,219.00 L321.20,219.00 L321.20,220.40 L325.50,220.40 L325.50,222.50 L329.80,222.50 L329.80,224.70 L332.00,224.70 L332.00,232.30 L335.20,232.30 L335.20,236.60 L338.40,236.60 L338.40,239.80 L340.60,239.80 L340.60,243.00 L342.70,243.00 L342.70,246.90 L347.00,246.90 L347.00,252.70 L350.30,252.70 L350.30,256.00 L353.50,256.00 L353.50,260.30 L356.80,260.30 L356.80,263.50 L360.00,263.50 L360.00,272.10 L364.30,272.10 L364.30,274.30 L367.50,274.30 L367.50,277.50 L369.70,277.50 L369.70,284.00 L374.00,284.00 L374.00,286.80 L378.20,286.80 L378.20,289.70 L382.50,289.70 L382.50,292.00 L393.30,292.00 L393.30,295.30 L396.60,295.30 L396.60,296.40 L408.40,296.40 L408.40,300.70 L413.80,300.70 L413.80,305.00 L418.10,305.00 L418.10,307.10 L430.00,307.10 L430.00,310.40 L438.60,310.40 L438.60,312.50 L441.80,312.50 L441.80,314.70 L448.30,314.70 L448.30,318.00 L471.60,318.00 L471.60,322.30 L515.60,322.30" fill="none" stroke="#5a5aee" stroke-width="0.9"/>
<path d="M330.10,224.70 h2.6 M331.40,223.40 v2.6" stroke="#5a5aee" stroke-width="0.8"/>
<path d="M337.70,239.80 h2.6 M339.00,238.50 v2.6" stroke="#5a5aee" stroke-width="0.8"/>
<path d="M343.30,246.90 h2.6 M344.60,245.60 v2.6" stroke="#5a5aee" stroke-width="0.8"/>
<path d="M359.10,272.10 h2.6 M360.40,270.80 v2.6" stroke="#5a5aee" stroke-width="0.8"/>
<path d="M370.70,284.00 h2.6 M372.00,282.70 v2.6" stroke="#5a5aee" stroke-width="0.8"/>
<path d="M375.30,286.80 h2.6 M376.60,285.50 v2.6" stroke="#5a5aee" stroke-width="0.8"/>
<path d="M383.70,292.00 h2.6 M385.00,290.70 v2.6" stroke="#5a5aee" stroke-width="0.8"/>
<path d="M392.70,295.30 h2.6 M394.00,294.00 v2.6" stroke="#5a5aee" stroke-width="0.8"/>
<path d="M414.20,305.00 h2.6 M415.50,303.70 v2.6" stroke="#5a5aee" stroke-width="0.8"/>
<path d="M428.40,307.10 h2.6 M429.70,305.80 v2.6" stroke="#5a5aee" stroke-width="0.8"/>
<path d="M443.90,314.70 h2.6 M445.20,313.40 v2.6" stroke="#5a5aee" stroke-width="0.8"/>
<path d="M488.40,322.30 h2.6 M489.70,321.00 v2.6" stroke="#5a5aee" stroke-width="0.8"/>
<path d="M514.30,322.30 h2.6 M515.60,321.00 v2.6" stroke="#5a5aee" stroke-width="0.8"/>
<rect x="304.5" y="216.3" width="238.70000000000005" height="118.0" fill="none" stroke="#8a8a8a" stroke-width="1"/>
<line x1="302.0" y1="331.10" x2="304.5" y2="331.10" stroke="#555" stroke-width="0.8"/>
<text x="300.70" y="333.05" font-size="5.5" text-anchor="end" font-weight="normal" fill="#333" font-family='"Liberation Sans", sans-serif'  stroke="#333" stroke-width="0.12">0.0</text>
<line x1="302.0" y1="308.74" x2="304.5" y2="308.74" stroke="#555" stroke-width="0.8"/>
<text x="300.70" y="310.69" font-size="5.5" text-anchor="end" font-weight="normal" fill="#333" font-family='"Liberation Sans", sans-serif'  stroke="#333" stroke-width="0.12">0.2</text>
<line x1="302.0" y1="286.38" x2="304.5" y2="286.38" stroke="#555" stroke-width="0.8"/>
<text x="300.70" y="288.33" font-size="5.5" text-anchor="end" font-weight="normal" fill="#333" font-family='"Liberation Sans", sans-serif'  stroke="#333" stroke-width="0.12">0.4</text>
<line x1="302.0" y1="264.02" x2="304.5" y2="264.02" stroke="#555" stroke-width="0.8"/>
<text x="300.70" y="265.97" font-size="5.5" text-anchor="end" font-weight="normal" fill="#333" font-family='"Liberation Sans", sans-serif'  stroke="#333" stroke-width="0.12">0.6</text>
<line x1="302.0" y1="241.66" x2="304.5" y2="241.66" stroke="#555" stroke-width="0.8"/>
<text x="300.70" y="243.61" font-size="5.5" text-anchor="end" font-weight="normal" fill="#333" font-family='"Liberation Sans", sans-serif'  stroke="#333" stroke-width="0.12">0.8</text>
<line x1="302.0" y1="219.30" x2="304.5" y2="219.30" stroke="#555" stroke-width="0.8"/>
<text x="300.70" y="221.25" font-size="5.5" text-anchor="end" font-weight="normal" fill="#333" font-family='"Liberation Sans", sans-serif'  stroke="#333" stroke-width="0.12">1.0</text>
<line x1="316.50" y1="334.3" x2="316.50" y2="336.8" stroke="#555" stroke-width="0.8"/>
<text x="316.50" y="343.20" font-size="5.5" text-anchor="middle" font-weight="normal" fill="#333" font-family='"Liberation Sans", sans-serif'  stroke="#333" stroke-width="0.12">0</text>
<line x1="353.40" y1="334.3" x2="353.40" y2="336.8" stroke="#555" stroke-width="0.8"/>
<text x="353.40" y="343.20" font-size="5.5" text-anchor="middle" font-weight="normal" fill="#333" font-family='"Liberation Sans", sans-serif'  stroke="#333" stroke-width="0.12">10</text>
<line x1="390.30" y1="334.3" x2="390.30" y2="336.8" stroke="#555" stroke-width="0.8"/>
<text x="390.30" y="343.20" font-size="5.5" text-anchor="middle" font-weight="normal" fill="#333" font-family='"Liberation Sans", sans-serif'  stroke="#333" stroke-width="0.12">20</text>
<line x1="427.20" y1="334.3" x2="427.20" y2="336.8" stroke="#555" stroke-width="0.8"/>
<text x="427.20" y="343.20" font-size="5.5" text-anchor="middle" font-weight="normal" fill="#333" font-family='"Liberation Sans", sans-serif'  stroke="#333" stroke-width="0.12">30</text>
<line x1="464.10" y1="334.3" x2="464.10" y2="336.8" stroke="#555" stroke-width="0.8"/>
<text x="464.10" y="343.20" font-size="5.5" text-anchor="middle" font-weight="normal" fill="#333" font-family='"Liberation Sans", sans-serif'  stroke="#333" stroke-width="0.12">40</text>
<line x1="501.00" y1="334.3" x2="501.00" y2="336.8" stroke="#555" stroke-width="0.8"/>
<text x="501.00" y="343.20" font-size="5.5" text-anchor="middle" font-weight="normal" fill="#333" font-family='"Liberation Sans", sans-serif'  stroke="#333" stroke-width="0.12">50</text>
<line x1="537.90" y1="334.3" x2="537.90" y2="336.8" stroke="#555" stroke-width="0.8"/>
<text x="537.90" y="343.20" font-size="5.5" text-anchor="middle" font-weight="normal" fill="#333" font-family='"Liberation Sans", sans-serif'  stroke="#333" stroke-width="0.12">60</text>
<text x="0" y="0" font-size="5.8" font-weight="bold" text-anchor="middle" fill="#111" font-family='"Liberation Sans", sans-serif' transform="translate(285,275) rotate(-90)">Survival Probability</text>
<text x="424.00" y="352.50" font-size="6.1" text-anchor="middle" font-weight="bold" fill="#111" font-family='"Liberation Sans", sans-serif'  stroke="#111" stroke-width="0.12">Time (months)</text>
<rect x="360.4" y="358.3" width="126.20000000000005" height="7.699999999999989" fill="#fff" stroke="#444" stroke-width="0.7"/>
<text x="362.90" y="364.30" font-size="6.0" text-anchor="start" font-weight="bold" fill="#111" font-family='"Liberation Sans", sans-serif'  stroke="#111" stroke-width="0.12">Technique</text>
<line x1="401.8" y1="362.15" x2="421.5" y2="362.15" stroke="#ff3030" stroke-width="1.4" stroke-opacity="0.45"/>
<text x="424.20" y="364.15" font-size="5.6" text-anchor="start" font-weight="normal" fill="#2a2a2a" font-family='"Liberation Sans", sans-serif' textLength="13.4" lengthAdjust="spacingAndGlyphs" stroke="#2a2a2a" stroke-width="0.12">HART</text>
<line x1="444" y1="362.15" x2="463.5" y2="362.15" stroke="#3030ff" stroke-width="1.4" stroke-opacity="0.45"/>
<text x="466.70" y="364.15" font-size="5.6" text-anchor="start" font-weight="normal" fill="#2a2a2a" font-family='"Liberation Sans", sans-serif' textLength="17.8" lengthAdjust="spacingAndGlyphs" stroke="#2a2a2a" stroke-width="0.12">SMART</text>
<rect x="495" y="218.2" width="45.5" height="12.0" fill="#fff" stroke="#444" stroke-width="0.7"/>
<text x="517.50" y="222.90" font-size="5.6" text-anchor="middle" font-weight="normal" fill="#222" font-family='"Liberation Sans", sans-serif' textLength="27" lengthAdjust="spacingAndGlyphs" stroke="#222" stroke-width="0.12">+ Censored</text>
<text x="517.70" y="229.20" font-size="5.6" text-anchor="middle" font-weight="normal" fill="#222" font-family='"Liberation Sans", sans-serif' textLength="43" lengthAdjust="spacingAndGlyphs" stroke="#222" stroke-width="0.12">Logrank p=0.2166</text>
<text x="300.20" y="379.55" font-size="5.5" text-anchor="end" font-weight="normal" fill="#ff3030" font-family='"Liberation Sans", sans-serif'  stroke="#ff3030" stroke-width="0.12">HART</text>
<text x="316.50" y="379.20" font-size="4.5" text-anchor="middle" font-weight="normal" fill="#ff3030" font-family='"Liberation Sans", sans-serif' stroke="none">120</text>
<text x="353.40" y="379.20" font-size="4.5" text-anchor="middle" font-weight="normal" fill="#ff3030" font-family='"Liberation Sans", sans-serif' stroke="none">87</text>
<text x="390.30" y="379.20" font-size="4.5" text-anchor="middle" font-weight="normal" fill="#ff3030" font-family='"Liberation Sans", sans-serif' stroke="none">48</text>
<text x="427.20" y="379.20" font-size="4.5" text-anchor="middle" font-weight="normal" fill="#ff3030" font-family='"Liberation Sans", sans-serif' stroke="none">24</text>
<text x="464.10" y="379.20" font-size="4.5" text-anchor="middle" font-weight="normal" fill="#ff3030" font-family='"Liberation Sans", sans-serif' stroke="none">9</text>
<text x="501.00" y="379.20" font-size="4.5" text-anchor="middle" font-weight="normal" fill="#ff3030" font-family='"Liberation Sans", sans-serif' stroke="none">4</text>
<text x="537.90" y="379.20" font-size="4.5" text-anchor="middle" font-weight="normal" fill="#ff3030" font-family='"Liberation Sans", sans-serif' stroke="none">0</text>
<text x="300.20" y="385.15" font-size="5.5" text-anchor="end" font-weight="normal" fill="#3030ff" font-family='"Liberation Sans", sans-serif'  stroke="#3030ff" stroke-width="0.12">SMART</text>
<text x="316.50" y="384.80" font-size="4.5" text-anchor="middle" font-weight="normal" fill="#3030ff" font-family='"Liberation Sans", sans-serif' stroke="none">90</text>
<text x="353.40" y="384.80" font-size="4.5" text-anchor="middle" font-weight="normal" fill="#3030ff" font-family='"Liberation Sans", sans-serif' stroke="none">51</text>
<text x="390.30" y="384.80" font-size="4.5" text-anchor="middle" font-weight="normal" fill="#3030ff" font-family='"Liberation Sans", sans-serif' stroke="none">19</text>
<text x="427.20" y="384.80" font-size="4.5" text-anchor="middle" font-weight="normal" fill="#3030ff" font-family='"Liberation Sans", sans-serif' stroke="none">10</text>
<text x="464.10" y="384.80" font-size="4.5" text-anchor="middle" font-weight="normal" fill="#3030ff" font-family='"Liberation Sans", sans-serif' stroke="none">3</text>
<text x="501.00" y="384.80" font-size="4.5" text-anchor="middle" font-weight="normal" fill="#3030ff" font-family='"Liberation Sans", sans-serif' stroke="none">1</text>
<text x="537.90" y="384.80" font-size="4.5" text-anchor="middle" font-weight="normal" fill="#3030ff" font-family='"Liberation Sans", sans-serif' stroke="none">0</text>
</svg></body></html>
